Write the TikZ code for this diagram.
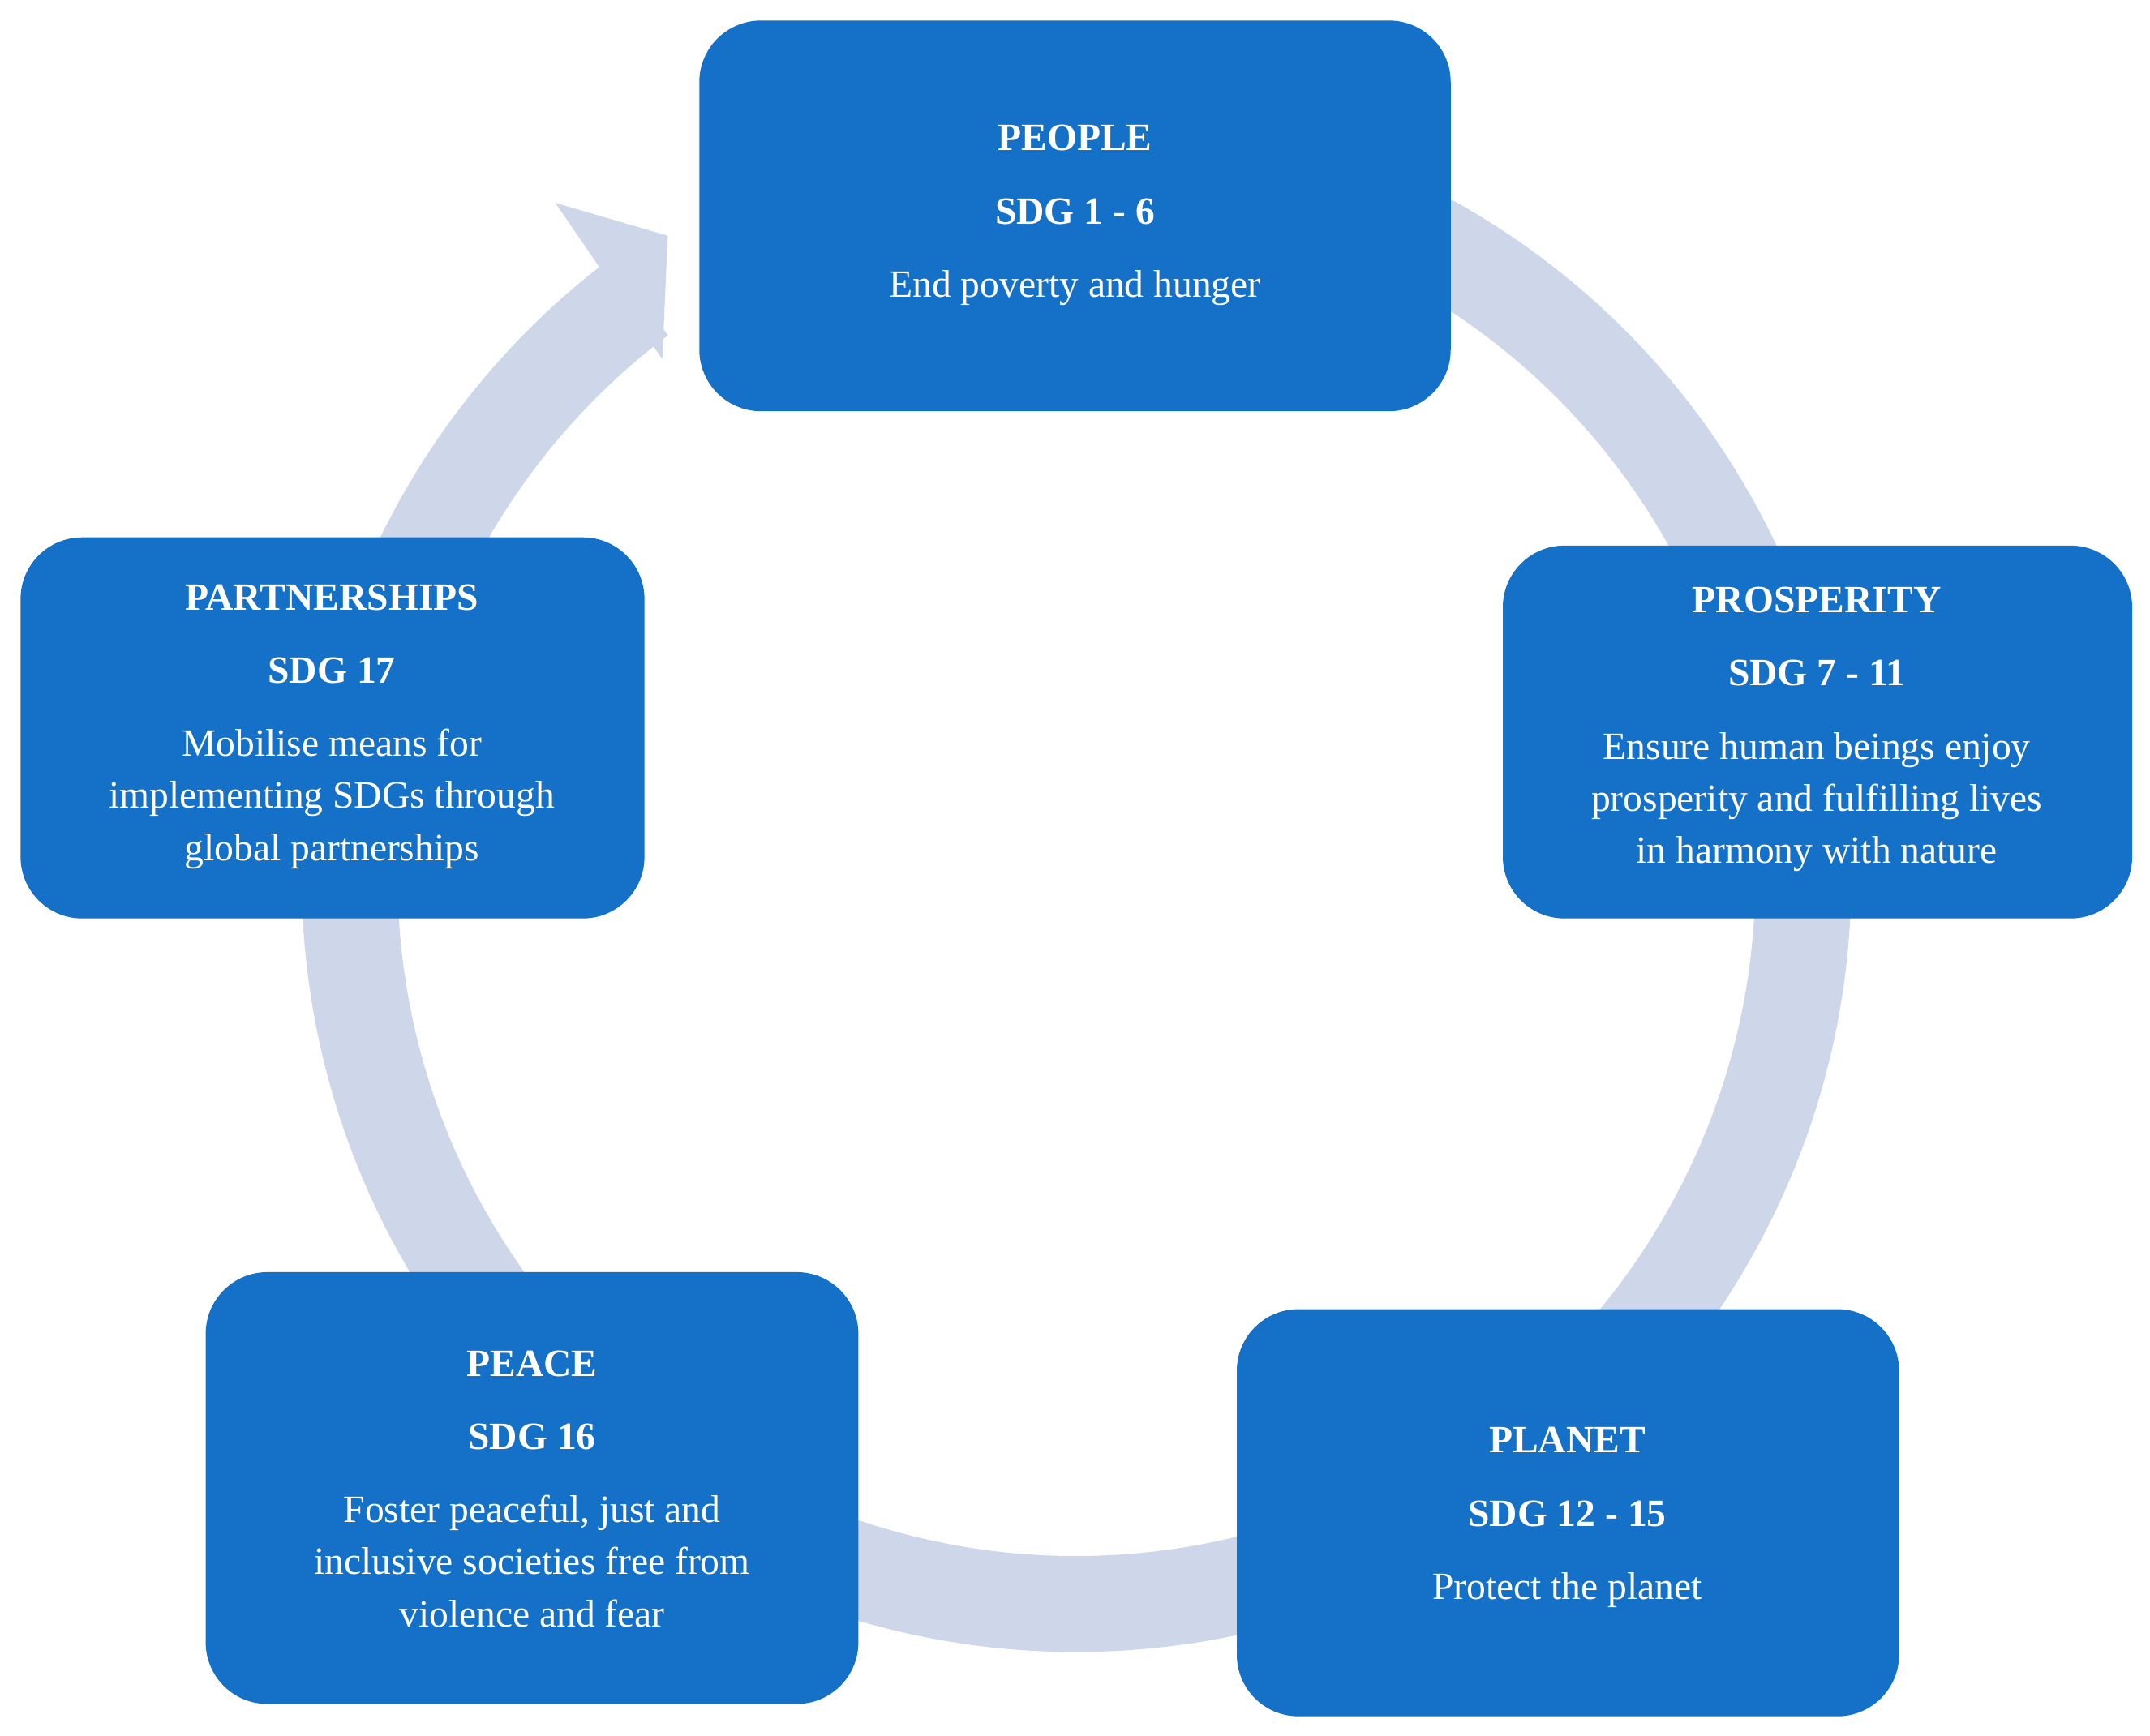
\documentclass[tikz,border=0pt]{standalone}
\usepackage{fontspec}
\setmainfont{Liberation Serif}
\begin{document}
\begin{tikzpicture}[x=0.025cm,y=0.025cm,
  box/.style={fill=boxblue,rounded corners=45*0.025cm,text=white,align=center,
    font=\fontsize{20}{27}\selectfont,inner sep=0pt},
  ring/.style={draw=ringcol,line width=70*0.025cm}]
\definecolor{boxblue}{RGB}{21,112,200}
\definecolor{ringcol}{RGB}{206,214,234}
\useasboundingbox (0,0) rectangle (1568,1266);
\coordinate (c) at (785,626);
\draw[ring] (c) ++(61:530) arc[start angle=61,end angle=-233,radius=530] coordinate (e);
\fill[ringcol] (405,1118) -- (487,1094) -- (483,1004) -- cycle;
% boxes
\fill[boxblue,rounded corners=45*0.025cm] (510,966) rectangle (1058,1251);
\node[box,fill=none] (people) at (784,1109) {\textbf{PEOPLE}\\[11pt]\textbf{SDG 1 - 6}\\[11pt]End poverty and hunger};
\fill[boxblue,rounded corners=45*0.025cm] (1096,596) rectangle (1555,868);
\node[box,fill=none] (prosp) at (1325,734) {\textbf{PROSPERITY}\\[11pt]\textbf{SDG 7 - 11}\\[11pt]Ensure human beings enjoy\\prosperity and fulfilling lives\\in harmony with nature};
\fill[boxblue,rounded corners=45*0.025cm] (902,14) rectangle (1385,311);
\node[box,fill=none] (planet) at (1143,159) {\textbf{PLANET}\\[11pt]\textbf{SDG 12 - 15}\\[11pt]Protect the planet};
\fill[boxblue,rounded corners=45*0.025cm] (150,23) rectangle (626,338);
\node[box,fill=none] (peace) at (388,180) {\textbf{PEACE}\\[11pt]\textbf{SDG 16}\\[11pt]Foster peaceful, just and\\inclusive societies free from\\violence and fear};
\fill[boxblue,rounded corners=45*0.025cm] (15,596) rectangle (470,874);
\node[box,fill=none] (partner) at (242,736) {\textbf{PARTNERSHIPS}\\[11pt]\textbf{SDG 17}\\[11pt]Mobilise means for\\implementing SDGs through\\global partnerships};
\end{tikzpicture}
\end{document}
